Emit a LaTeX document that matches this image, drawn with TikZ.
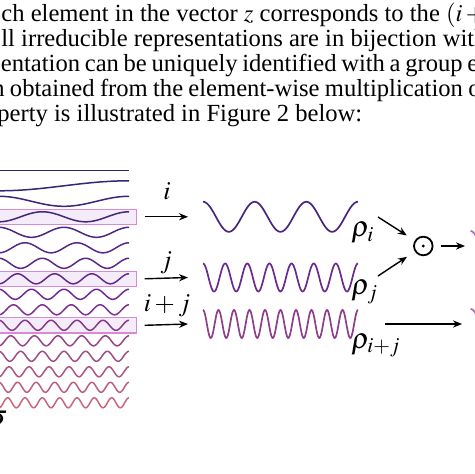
\documentclass[tikz,border=0pt]{standalone}
\usepackage{mathptmx}
\usepackage{fontspec}
\setmainfont{Liberation Serif}
\usetikzlibrary{arrows.meta}

\definecolor{waveTop}{HTML}{2B2470}
\definecolor{waveMid}{HTML}{6E2A92}
\definecolor{waveBot}{HTML}{C8667F}
\definecolor{boxFill}{HTML}{F4ECF8}
\definecolor{boxEdge}{HTML}{D58BD6}
\definecolor{cutWave}{HTML}{B070B0}

\tikzset{
    stackwave/.style={line width=0.75pt, line join=round},
    rhowave/.style={line width=0.85pt, line join=round},
    selbox/.style={draw=boxEdge, fill=boxFill, line width=0.65pt, minimum width=69.4pt, minimum height=7.6pt, inner sep=0pt},
    flow/.style={-{Stealth[length=4.5pt,width=3.6pt]}, line width=0.7pt},
    bodyline/.style={anchor=base west, inner sep=0pt, font=\fontsize{12.3}{14}\selectfont},
    arrowlabel/.style={anchor=base, inner sep=0pt, font=\fontsize{13}{15}\selectfont},
    rholabel/.style={anchor=base west, inner sep=0pt, font=\fontsize{14.5}{16}\selectfont}
}

\begin{document}
\begin{tikzpicture}[x=0.5pt, y=-0.5pt]
    \useasboundingbox (0,0) rectangle (474,474);
    % Running text (justified lines, so the spaces differ)
    \node[bodyline] (line1) at (1,21.7) {ch element in the vector $z$ corresponds to the $(i+j)$};
    \node[bodyline] (line2) at (1,46.7) {ll irreducible representations are in bijection with};
    \node[bodyline] (line3) at (0.5,71.7) {\spaceskip=0.19em entation can be uniquely identified with a group element};
    \node[bodyline] (line4) at (-8,96.7) {\spaceskip=0.215em n obtained from the element-wise multiplication of};
    \node[bodyline] (line5) at (-3,121.7) {perty is illustrated in Figure 2 below:};
    % Selected rows
    \node[selbox] (boxI) at (67.4,216.8) {};
    \node[selbox] (boxJ) at (67.4,278.8) {};
    \node[selbox] (boxIJ) at (67.4,325.3) {};
    % Stack of basis waves
    \foreach \k in {0,...,15} {
        \pgfmathsetmacro{\yc}{170.3+15.5*\k}
        \pgfmathsetmacro{\amp}{min(\k,1)*5}
        \pgfmathsetmacro{\frq}{180*\k/130}
        \ifnum\k<8
            \pgfmathtruncatemacro{\mix}{100-100*\k/8}
            \colorlet{wc}{waveTop!\mix!waveMid}
        \else
            \pgfmathtruncatemacro{\mix}{100-100*(\k-8)/7}
            \colorlet{wc}{waveMid!\mix!waveBot}
        \fi
        \draw[stackwave, wc] plot[domain=-1:129, samples=160] (\x, {\yc-\amp*cos(\frq*(129-\x))});
    }
    \node[rholabel, anchor=base east] (sigma) at (8,425) {$\sigma$};
    % Picked waves
    \colorlet{colI}{waveTop!55!waveMid}
    \colorlet{colJ}{waveTop!5!waveMid}
    \colorlet{colIJ}{waveMid!65!waveBot}
    \coordinate (waveI) at (203,216.8);
    \coordinate (waveJ) at (203,277.5);
    \coordinate (waveIJ) at (203,324);
    \draw[rhowave, colI] plot[domain=203:358, samples=200] (\x, {216.8-15*cos(360*3/155*(\x-203))});
    \draw[rhowave, colJ] plot[domain=203:358, samples=300] (\x, {277.5-14*cos(360*7/155*(\x-203))});
    \draw[rhowave, colIJ] plot[domain=203:358, samples=400] (\x, {324-14*cos(360*10/155*(\x-203))});
    \draw[flow] ([xshift=3.6pt]boxI.east) -- ([xshift=-7.5pt]waveI);
    \draw[flow] ([xshift=3.6pt]boxJ.east) -- ([xshift=-7.5pt]waveJ);
    \draw[flow] ([xshift=3.6pt]boxIJ.east) -- ([xshift=-7.5pt]waveIJ);
    \node[arrowlabel] (labI) at (167,200) {$i$};
    \node[arrowlabel] (labJ) at (166,269) {$j$};
    \node[arrowlabel] (labIJ) at (167,312) {$i+j$};
    \node[rholabel] (rhoI) at (351,237) {$\rho_i$};
    \node[rholabel] (rhoJ) at (351,295) {$\rho_j$};
    \node[rholabel] (rhoIJ) at (351,348) {$\rho_{i+j}$};
    % Element-wise product
    \node[circle, draw, line width=0.9pt, minimum size=9.3pt, inner sep=0pt] (prod) at (423.3,246) {};
    \fill (prod) circle (1.6);
    \coordinate (tailI) at (378,217);
    \coordinate (tailJ) at (378,276);
    \coordinate (outProd) at (465,246);
    \coordinate (tailIJ) at (385,324);
    \coordinate (headIJ) at (462,324);
    \draw[flow, shorten >=4.7pt] (tailI) -- (prod);
    \draw[flow, shorten >=4.7pt] (tailJ) -- (prod);
    \draw[flow, shorten <=3.7pt] (prod) -- (outProd);
    \draw[flow] (tailIJ) -- (headIJ);
    % Waves cut by the right edge
    \draw[rhowave, cutWave] plot[domain=470.5:490, samples=30] (\x, {231+15-15*cos(9*(\x-470.5))});
    \draw[rhowave, cutWave] plot[domain=470.5:490, samples=30] (\x, {309+15-15*cos(9*(\x-470.5))});
\end{tikzpicture}
\end{document}
